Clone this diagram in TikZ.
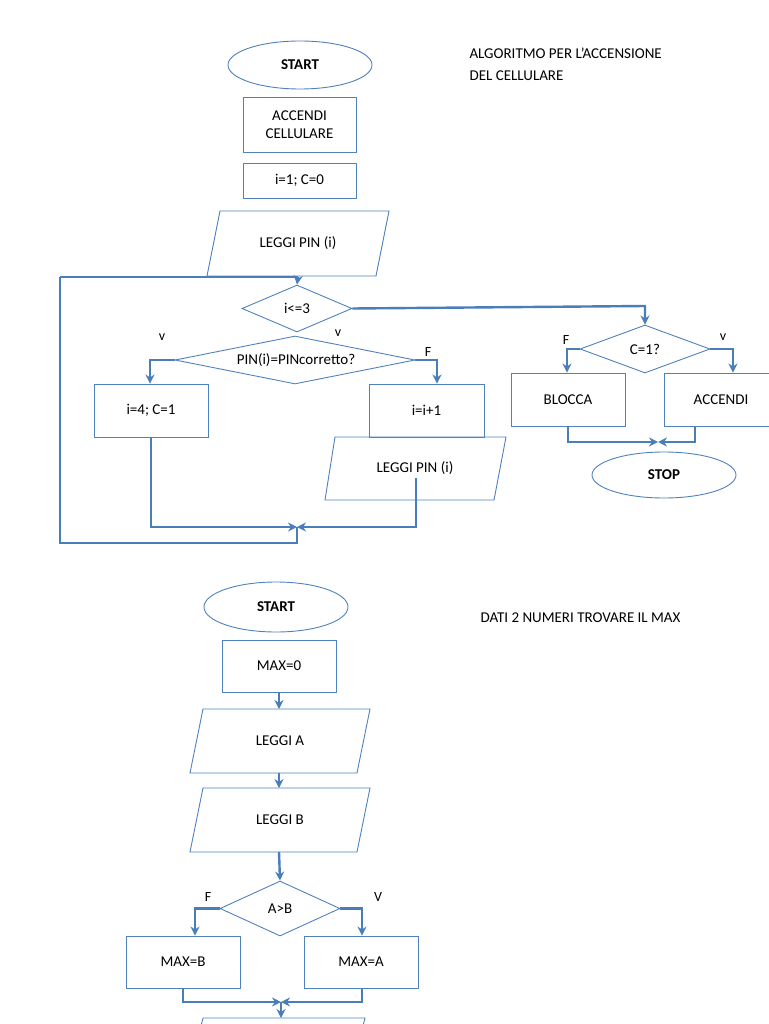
\documentclass[tikz,border=0pt]{standalone}
\usepackage{fontspec}
\setmainfont{Carlito}
\usetikzlibrary{shapes.geometric,arrows.meta}
\definecolor{ln}{HTML}{4A7EBB}
\definecolor{ol}{HTML}{4F81BD}
\begin{document}
\begin{tikzpicture}[x=1pt,y=-1pt,
  every node/.style={font=\fontsize{15}{18}\selectfont},
  box/.style={draw=ol,line width=0.9pt,minimum width=#1,inner sep=0pt,align=center},
  ell/.style={ellipse,draw=ol,line width=0.9pt,minimum width=144pt,minimum height=48pt,font=\fontsize{15}{18}\selectfont\bfseries},
  dia/.style={diamond,draw=ol,line width=0.9pt,aspect=2.3,inner sep=0pt,align=center},
  par/.style={draw=ol,line width=0.9pt},
  con/.style={draw=ln,line width=2.4pt},
  arr/.style={con,-{Stealth[length=9pt,width=9pt]}},
  lab/.style={font=\fontsize{14}{16}\selectfont}]
\useasboundingbox (0,0) rectangle (768,1024);
% ---------- top
\node[ell] (start1) at (300,65) {START};
\node[box=113pt,minimum height=55pt] (acc) at (299.5,124.5) {ACCENDI\\CELLULARE};
\node[box=113pt,minimum height=35pt] (init) at (299.5,180.5) {i=1; C=0};
\draw[par] (220,211) -- (389,211) -- (376,276) -- (207,276) -- cycle;
\node (leggi1) at (298,243) {LEGGI PIN (i)};
\node[dia,minimum width=110pt,minimum height=47pt] (cond1) at (297,308.5) {i<=3};
\node[dia,minimum width=240pt,minimum height=48pt] (pin) at (295,360) {};
\node at (296,360) {PIN(i)=PIN\\[-2pt]corretto?};
\node[align=center] at (296,360) {};
\node[box=114pt,minimum height=53pt] (i4) at (151,410.5) {i=4; C=1};
\node[box=115pt,minimum height=53pt] (inc) at (426.5,410.5) {i=i+1};
\draw[par] (335,437) -- (506,437) -- (494,500) -- (325,500) -- cycle;
\node (leggi2) at (415,468) {LEGGI PIN (i)};
\node[dia,minimum width=130pt,minimum height=48pt] (c1) at (645,349) {C=1?};
\node[box=114pt,minimum height=53pt] (blocca) at (568,399.5) {BLOCCA};
\node[box=114pt,minimum height=53pt] (accendi) at (721,399.5) {ACCENDI};
\node[ell,minimum width=144pt,minimum height=46pt] (stop) at (664,475) {STOP};
\node[anchor=north west,align=left,font=\fontsize{15}{22}\selectfont] (title1) at (466,44) {ALGORITMO PER L’ACCENSIONE\\DEL CELLULARE};
\node[lab] at (162,337) {v};
\node[lab] at (338,333) {v};
\node[lab] at (428,352) {F};
\node[lab] at (566,340) {F};
\node[lab] at (723,337) {v};
% connectors top
\coordinate (lt) at (60,277);
\coordinate (lb) at (60,543);
\coordinate (mb) at (297,543);
\coordinate (m1) at (297,527);
\draw[arr] (298,277) -- (cond1.north);
\draw[con] (lt) -- (298,277);
\draw[con] (lt) -- (lb) -- (mb) -- (m1);
\draw[arr] (cond1.east) -- (645,306) -- (c1.north);
\draw[arr] (pin.west) -- (150,360) -- (i4.north -| 150,0);
\draw[arr] (pin.east) -- (437,360) -- (inc.north -| 437,0);
\draw[arr] (i4.south) -- (151,527) -- (m1);
\draw[arr] (leggi2.south -| 416,500) -- (416,527) -- (m1);
\draw[arr] (c1.west) -- (567,349) -- (blocca.north -| 567,0);
\draw[arr] (c1.east) -- (733,349) -- (accendi.north -| 733,0);
\coordinate (m2) at (658,442);
\draw[arr] (blocca.south) -- (568,442) -- (m2);
\draw[arr] (695,426) -- (695,442) -- (m2);
% ---------- bottom
\node[ell,minimum height=50pt] (start2) at (276,607) {START};
\node[box=114pt,minimum height=52pt] (max0) at (279,666) {MAX=0};
\draw[par] (203,709) -- (370,709) -- (357,773) -- (190,773) -- cycle;
\node (la) at (280,741) {LEGGI A};
\draw[par] (203,788) -- (370,788) -- (357,852) -- (190,852) -- cycle;
\node (lbb) at (280,820) {LEGGI B};
\node[dia,minimum width=120pt,minimum height=55pt] (ab) at (280,908.5) {A>B};
\node[box=114pt,minimum height=52pt] (maxb) at (183,962) {MAX=B};
\node[box=114pt,minimum height=52pt] (maxa) at (361,962) {MAX=A};
\draw[par] (203,1018) -- (365,1018) -- (363,1026);
\draw[par] (201,1026) -- (203,1018);
\node[anchor=west,font=\fontsize{15}{18}\selectfont] (title2) at (477,618) {DATI 2 NUMERI TROVARE IL MAX};
\node[lab] at (208,897) {F};
\node[lab] at (378,897) {V};
\draw[arr] (max0.south -| 279,0) -- (279,709);
\draw[arr] (279,773) -- (279,788);
\draw[arr] (279,852) -- (ab.north);
\draw[arr] (ab.west) -- (195,908.5) -- (maxb.north -| 195,0);
\draw[arr] (ab.east) -- (362,908.5) -- (maxa.north -| 362,0);
\coordinate (m3) at (281,1002);
\draw[arr] (183,988) -- (183,1002) -- (m3);
\draw[arr] (362,988) -- (362,1002) -- (m3);
\draw[arr] (m3) -- (281,1018);
\end{tikzpicture}
\end{document}
